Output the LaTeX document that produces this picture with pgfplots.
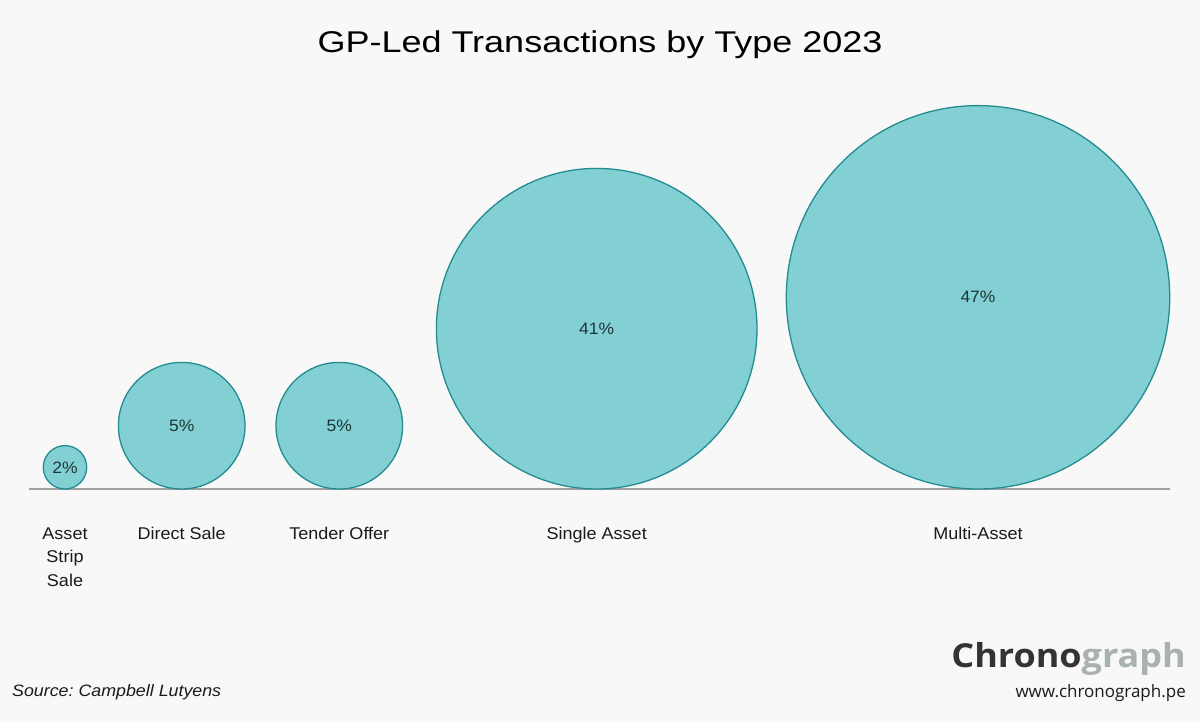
\documentclass[border=0pt]{standalone}
\usepackage{pgfplots}
\pgfplotsset{compat=1.18}
\usepackage{fontspec}
\setmainfont{Liberation Sans}
\newfontfamily\logofont{Open Sans}
\newfontfamily\titlefont[FakeStretch=1.2]{Liberation Sans}
\newfontfamily\labelfont[FakeStretch=1.06]{Liberation Sans}
\newfontfamily\srcfont[FakeStretch=1.08]{Liberation Sans}
\definecolor{bg}{HTML}{F8F8F8}
\definecolor{bubfill}{HTML}{82D0D4}
\definecolor{bubedge}{HTML}{238C91}
\definecolor{baseln}{HTML}{A0A0A0}
\definecolor{txt}{HTML}{1A1A1A}
\definecolor{pct}{HTML}{1F3535}
\definecolor{logodark}{HTML}{333333}
\definecolor{logolight}{HTML}{A9B1B1}
\pgfplotstableread{
x      y      r      v
65     467.3  21.7   2
181.7  425.7  63.3   5
339.3  425.7  63.3   5
596.7  328.7  160.3  41
978    297.3  191.7  47
}\bubbles
\begin{document}
\frenchspacing
\begin{tikzpicture}
\begin{axis}[
  width=1200pt, height=722pt, scale only axis,
  xmin=0, xmax=1200, ymin=0, ymax=722, y dir=reverse,
  axis lines=none, ticks=none, clip=false,
  axis background/.style={fill=bg},
]
% baseline
\addplot[baseln, line width=1.2pt] coordinates {(29,489) (1170,489)};
% bubbles
\addplot[
  scatter, only marks, mark=*,
  scatter/use mapped color={draw=bubedge, fill=bubfill},
  mark options={line width=1.3pt},
  visualization depends on={\thisrow{r} \as \perpointmarksize},
  scatter/@pre marker code/.append style={/tikz/mark size=\perpointmarksize},
] table[x=x, y=y, meta=v] {\bubbles};
% percentage labels
\addplot[
  only marks, mark=none,
  point meta=explicit symbolic,
  nodes near coords={\pgfplotspointmeta\%},
  nodes near coords align={center},
  every node near coord/.append style={font=\labelfont\fontsize{16.5}{19}\selectfont, text=pct, anchor=center},
] table[x=x, y=y, meta=v] {\bubbles};
% category labels
\begin{scope}[every node/.style={font=\labelfont\fontsize{17}{23.5}\selectfont, text=txt, align=center, anchor=north}]
\node at (axis cs:65,524) {Asset\\Strip\\Sale};
\node at (axis cs:181.7,524) {Direct Sale};
\node at (axis cs:339.3,524) {Tender Offer};
\node at (axis cs:596.7,524) {Single Asset};
\node at (axis cs:978,524) {Multi-Asset};
\end{scope}
% title
\node[font=\titlefont\fontsize{30}{34}\selectfont, text=black, anchor=base] at (axis cs:600,53) {GP-Led Transactions by Type 2023};
% source
\node[font=\srcfont\fontsize{16.5}{19}\selectfont\itshape, text=txt, anchor=base west, inner sep=0pt] at (axis cs:12,696) {Source: Campbell Lutyens};
% logo
\node[font=\logofont\fontsize{33}{38}\selectfont\bfseries\addfontfeature{FakeStretch=1.09}, anchor=base east, inner sep=0pt] at (axis cs:1186,667) {\textcolor{logodark}{Chrono}\textcolor{logolight}{graph}};
\node[font=\logofont\fontsize{17}{19}\selectfont, text=txt, anchor=base east, inner sep=0pt] at (axis cs:1186,697) {www.chronograph.pe};
\end{axis}
\end{tikzpicture}
\end{document}
